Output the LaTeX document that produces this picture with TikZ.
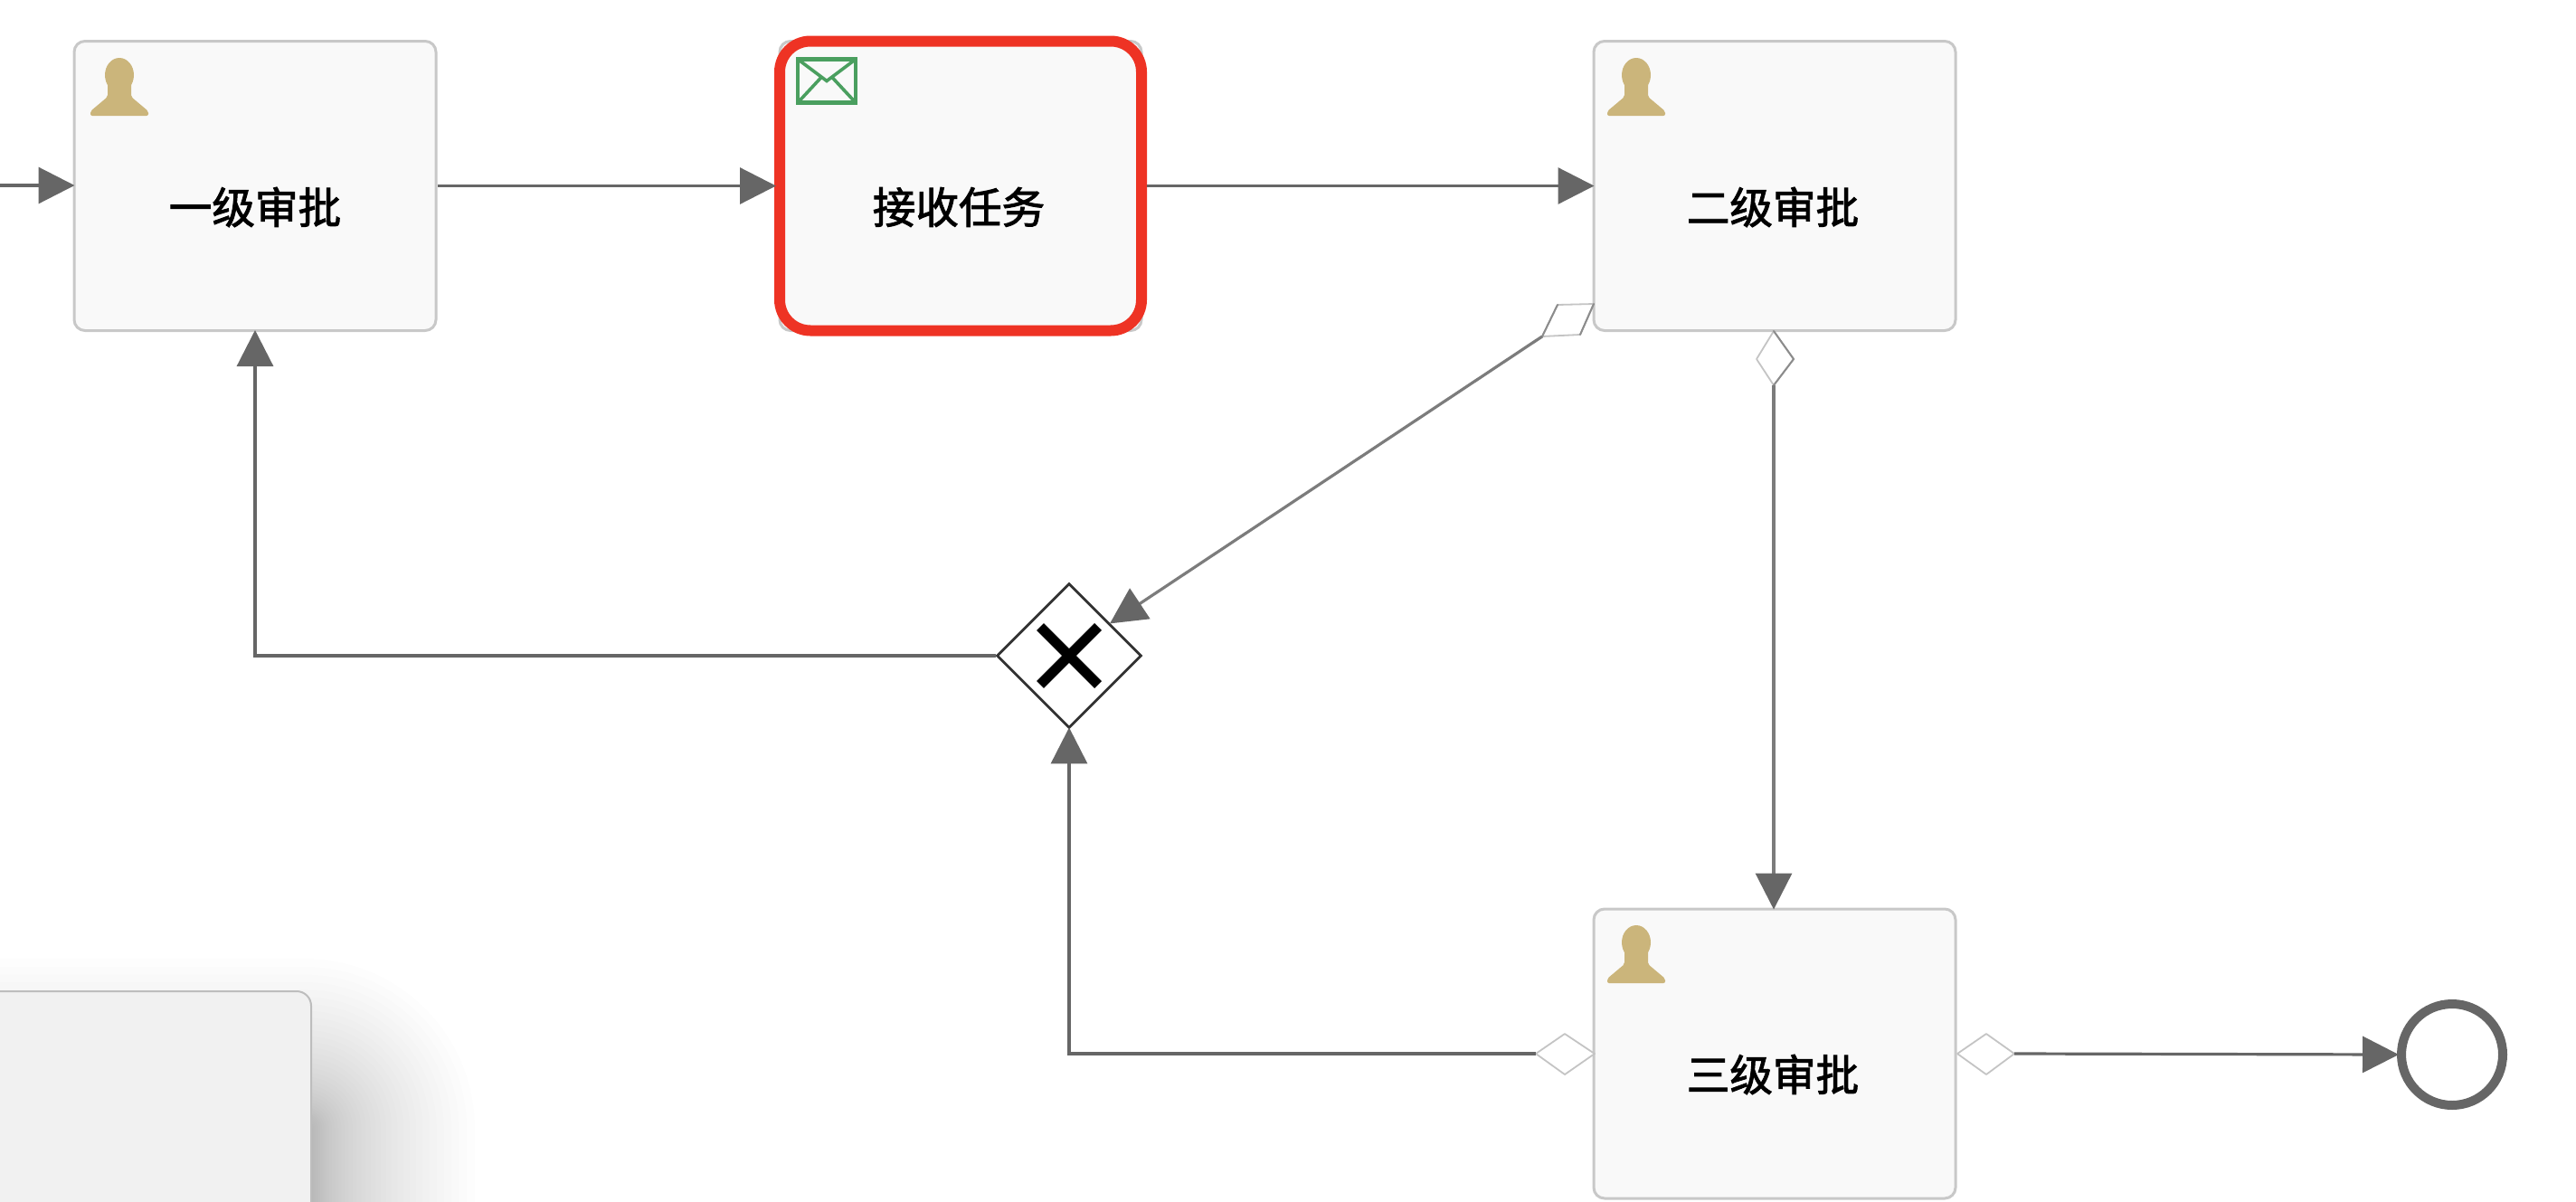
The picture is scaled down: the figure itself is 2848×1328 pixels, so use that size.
\documentclass[tikz,border=0pt]{standalone}
\usepackage{fontspec}
\newfontfamily\cjk[FakeBold=2]{Noto Sans CJK SC}
\usetikzlibrary{arrows.meta,shapes.geometric}
\definecolor{flowgray}{HTML}{666666}
\definecolor{diaggray}{HTML}{7C7C7C}
\definecolor{boxline}{HTML}{C8C8C8}
\definecolor{boxfill}{HTML}{F9F9F9}
\definecolor{usertan}{HTML}{CBB57B}
\definecolor{mailgreen}{HTML}{4A9F5F}
\definecolor{activered}{HTML}{EE3324}
\definecolor{panelfill}{HTML}{F1F1F1}
\definecolor{panelline}{HTML}{BDBDBD}
\definecolor{condline}{HTML}{C4C4C4}
\definecolor{conddark}{HTML}{8C8C8C}
\tikzset{
  x=0.5pt,y=-0.5pt,
  taskbox/.style={draw=boxline,fill=boxfill,line width=1.5pt,rounded corners=6pt,
    minimum width=200pt,minimum height=160pt,inner sep=0pt},
  activebox/.style={draw=activered,line width=6pt,rounded corners=17pt,
    minimum width=200pt,minimum height=160pt,inner sep=0pt},
  tasktext/.style={font=\cjk\fontsize{23.8}{28}\selectfont,text=black,inner sep=0pt},
  flow/.style={draw=flowgray,line width=1.6pt,shorten >=-1pt,
    -{Triangle[length=20pt,width=20pt,color=flowgray,fill=flowgray]}},
  lightflow/.style={flow,draw=diaggray},
  condmark/.style={draw=condline,fill=white,line width=0.9pt,line join=round},
  condside/.style={draw=conddark,line width=1pt,line cap=round},
  gateshape/.style={diamond,shape aspect=1,draw=black!80,fill=white,line width=1.4pt,
    minimum width=80pt,minimum height=80pt,inner sep=0pt},
  endshape/.style={circle,draw=flowgray,fill=white,line width=5pt,minimum size=56pt,inner sep=0pt},
  usericon/.pic={
    \fill[usertan] (0,-39) ellipse [x radius=8pt,y radius=9.5pt];
    \fill[usertan,rounded corners=1pt] (-13,-30) -- (-13,-15)
      -- (-32,1) -- (-32,6) -- (32,6) -- (32,1) -- (13,-15) -- (13,-30) -- cycle;
  },
  mailicon/.pic={
    \draw[mailgreen,line width=2.2pt] (-32,-24) rectangle (32,24);
    \draw[mailgreen,line width=1.8pt] (-32,-24) -- (0,0) -- (32,-24)
      (-32,24) -- (-6,-4) (32,24) -- (6,-4);
  }
}
\begin{document}
\begin{tikzpicture}
\useasboundingbox (0,0) rectangle (2848,1328);
% floating panel and its soft shadow
\begin{scope}
  \clip (0,0) rectangle (2848,1328);
  \foreach \i in {1,...,40}{
    \pgfmathsetmacro{\dd}{180*(\i/40)^2}
    \fill[black,fill opacity=0.008,rounded corners={(\dd+8)*0.5pt}]
      (-400,1240-\dd) rectangle (345+\dd,1800);
  }
  \node[draw=panelline,fill=panelfill,line width=1pt,rounded corners=8pt,
        minimum width=300pt,minimum height=200pt,inner sep=0pt,anchor=north east]
    (panel) at (345,1095) {};
\end{scope}
% tasks
\node[taskbox] (b1) at (282,205.5) {};
\node[taskbox] (b2base) at (1062,205.5) {};
\node[taskbox] (b3) at (1962,205.5) {};
\node[taskbox] (b4) at (1962,1165) {};
\node[activebox] (b2) at (1062,205.5) {};
\node[tasktext] (t1) at (282,229) {一级审批};
\node[tasktext] (t2) at (1060,229) {接收任务};
\node[tasktext] (t3) at (1960,229) {二级审批};
\node[tasktext] (t4) at (1960,1188) {三级审批};
\pic at (132,122) {usericon};
\pic at (914,89.5) {mailicon};
\pic at (1809,122) {usericon};
\pic at (1809,1081) {usericon};
% gateway and end
\node[gateshape] (gw) at (1182,725) {};
\draw[black,line width=5.5pt] (1150,693) -- (1214,757) (1150,757) -- (1214,693);
\node[endshape] (end) at (2711,1166) {};
% entry
\coordinate (entry) at (0,205);
% conditional flow markers
\coordinate (p1) at (1705,372);
\draw[condmark] (1762,336) -- (1722,337) -- (p1) -- (1747,370) -- cycle;
\draw[condside] (1722,337) -- (p1) (1762,336) -- (1747,370);
\coordinate (p2) at (1961,426);
\draw[condmark] (1961,366) -- (1983,397) -- (p2) -- (1942,397) -- cycle;
\draw[condside] (1961,366) -- (1983,397) -- (p2);
\coordinate (p3) at (1698,1165);
\draw[condmark] (1763,1165) -- (1730,1188) -- (p3) -- (1730,1143) -- cycle;
\coordinate (p4) at (2227,1165);
\draw[condmark] (2164,1165) -- (2196,1143) -- (p4) -- (2196,1188) -- cycle;
% connectors
\draw[flow] (entry) -- (entry -| b1.west);
\draw[flow] (b1.east) -- (b2.west);
\draw[flow] (b2.east) -- (b3.west);
\draw[flow] (gw.west) -| (b1.south);
\draw[lightflow] (p1) -- ([xshift=3pt,yshift=-2pt]gw.north east);
\draw[lightflow] (p2) -- (p2 |- b4.north);
\draw[flow] (p3) -| (gw.south);
\draw[flow] (p4) -- (end.west);
\end{tikzpicture}
\end{document}
